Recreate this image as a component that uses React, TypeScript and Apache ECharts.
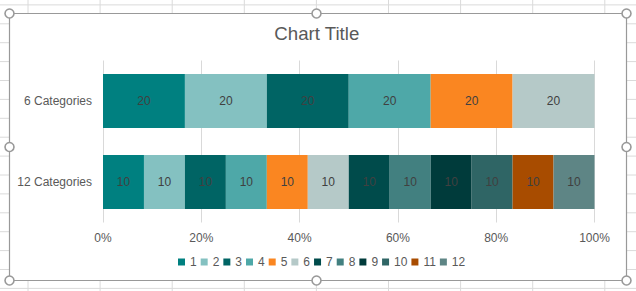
import React, { useEffect, useRef } from "react";
import * as echarts from "echarts";

const categories = ["12 Categories", "6 Categories"];
const seriesNames = ["1", "2", "3", "4", "5", "6", "7", "8", "9", "10", "11", "12"];
const values12Categories = [10, 10, 10, 10, 10, 10, 10, 10, 10, 10, 10, 10];
const values6Categories = [20, 20, 20, 20, 20, 20, null, null, null, null, null, null];
const xTicks = [0, 20, 40, 60, 80, 100];
const colors = [
  "#008080", "#84C1C1", "#006464", "#4EA8A8", "#FA8621", "#B5C9C8",
  "#004B4B", "#428080", "#003B3B", "#2F6565", "#A84C00", "#5E8585",
];

const FONT = "'Liberation Sans', Arial, sans-serif";

export default function App() {
  const ref = useRef<HTMLDivElement>(null);

  useEffect(() => {
    if (!ref.current) return;
    const chart = echarts.init(ref.current, undefined, { renderer: "svg" });

    const rawByCat = [values12Categories, values6Categories];
    const totals = rawByCat.map((arr) => arr.reduce((s: number, v) => s + (v ?? 0), 0));

    const series = seriesNames.map((name, i) => ({
      name,
      type: "bar",
      stack: "total",
      barWidth: "66.67%",
      itemStyle: { color: colors[i] },
      label: {
        show: true,
        position: "inside",
        color: "#404040",
        fontSize: 12,
        fontFamily: FONT,
        formatter: (p: any) => {
          const v = rawByCat[p.dataIndex][i];
          return v == null ? "" : String(v);
        },
      },
      data: rawByCat.map((arr, ci) => {
        const v = arr[i];
        return v == null ? null : (v / totals[ci]) * 100;
      }),
    }));

    // spreadsheet grid decoration
    const deco: any[] = [];
    for (let k = 0; k < 16; k++) {
      const y = 4.9 + 18.9 * k;
      deco.push({
        type: "line",
        z: -10,
        silent: true,
        shape: { x1: 0, y1: y, x2: 636, y2: y },
        style: { stroke: "#dadada", lineWidth: 1 },
      });
    }
    for (let k = 0; k < 9; k++) {
      const x = 28 + 72.1 * k;
      deco.push({
        type: "line",
        z: -10,
        silent: true,
        shape: { x1: x, y1: 0, x2: x, y2: 291 },
        style: { stroke: "#dadada", lineWidth: 1 },
      });
    }
    deco.push({
      type: "rect",
      z: -5,
      silent: true,
      shape: { x: 9.5, y: 13.5, width: 617, height: 267 },
      style: { fill: "#ffffff", stroke: "#999999", lineWidth: 1.2 },
    });
    const handles = [
      [9.5, 13.5], [316.5, 13.5], [626.5, 13.5],
      [9.5, 147], [626.5, 147],
      [9.5, 280.5], [316.5, 280.5], [626.5, 280.5],
    ];
    handles.forEach(([cx, cy]) => {
      deco.push({
        type: "circle",
        z: 100,
        silent: true,
        shape: { cx, cy, r: 4.5 },
        style: { fill: "#ffffff", stroke: "#999999", lineWidth: 1.6 },
      });
    });

    chart.setOption({
      animation: false,
      textStyle: { fontFamily: FONT },
      title: {
        text: "Chart Title",
        left: 316.8,
        textAlign: "center",
        top: 24,
        padding: 0,
        textStyle: { color: "#595959", fontSize: 18.67, fontWeight: "normal", fontFamily: FONT },
      },
      legend: {
        data: seriesNames,
        left: 178,
        top: 256,
        padding: 0,
        itemWidth: 7,
        itemHeight: 7,
        itemGap: 4,
        icon: "rect",
        textStyle: { color: "#595959", fontSize: 12, fontFamily: FONT },
      },
      grid: { left: 103, right: 41.5, top: 60.5, bottom: 68.5 },
      xAxis: {
        type: "value",
        min: xTicks[0],
        max: xTicks[xTicks.length - 1],
        interval: xTicks[1] - xTicks[0],
        axisLine: { show: false },
        axisTick: { show: false },
        splitLine: { show: true, lineStyle: { color: "#d9d9d9", width: 1 } },
        axisLabel: {
          formatter: "{value}%",
          color: "#595959",
          fontSize: 12,
          margin: 9,
          fontFamily: FONT,
        },
      },
      yAxis: {
        type: "category",
        data: categories,
        axisLine: { show: false },
        axisTick: { show: false },
        axisLabel: { color: "#595959", fontSize: 12, margin: 11, fontFamily: FONT },
      },
      graphic: { elements: deco },
      series,
    });

    return () => chart.dispose();
  }, []);

  return (
    <div
      ref={ref}
      style={{ position: "absolute", left: 0, top: 0, width: 636, height: 291, background: "#ffffff" }}
    />
  );
}
